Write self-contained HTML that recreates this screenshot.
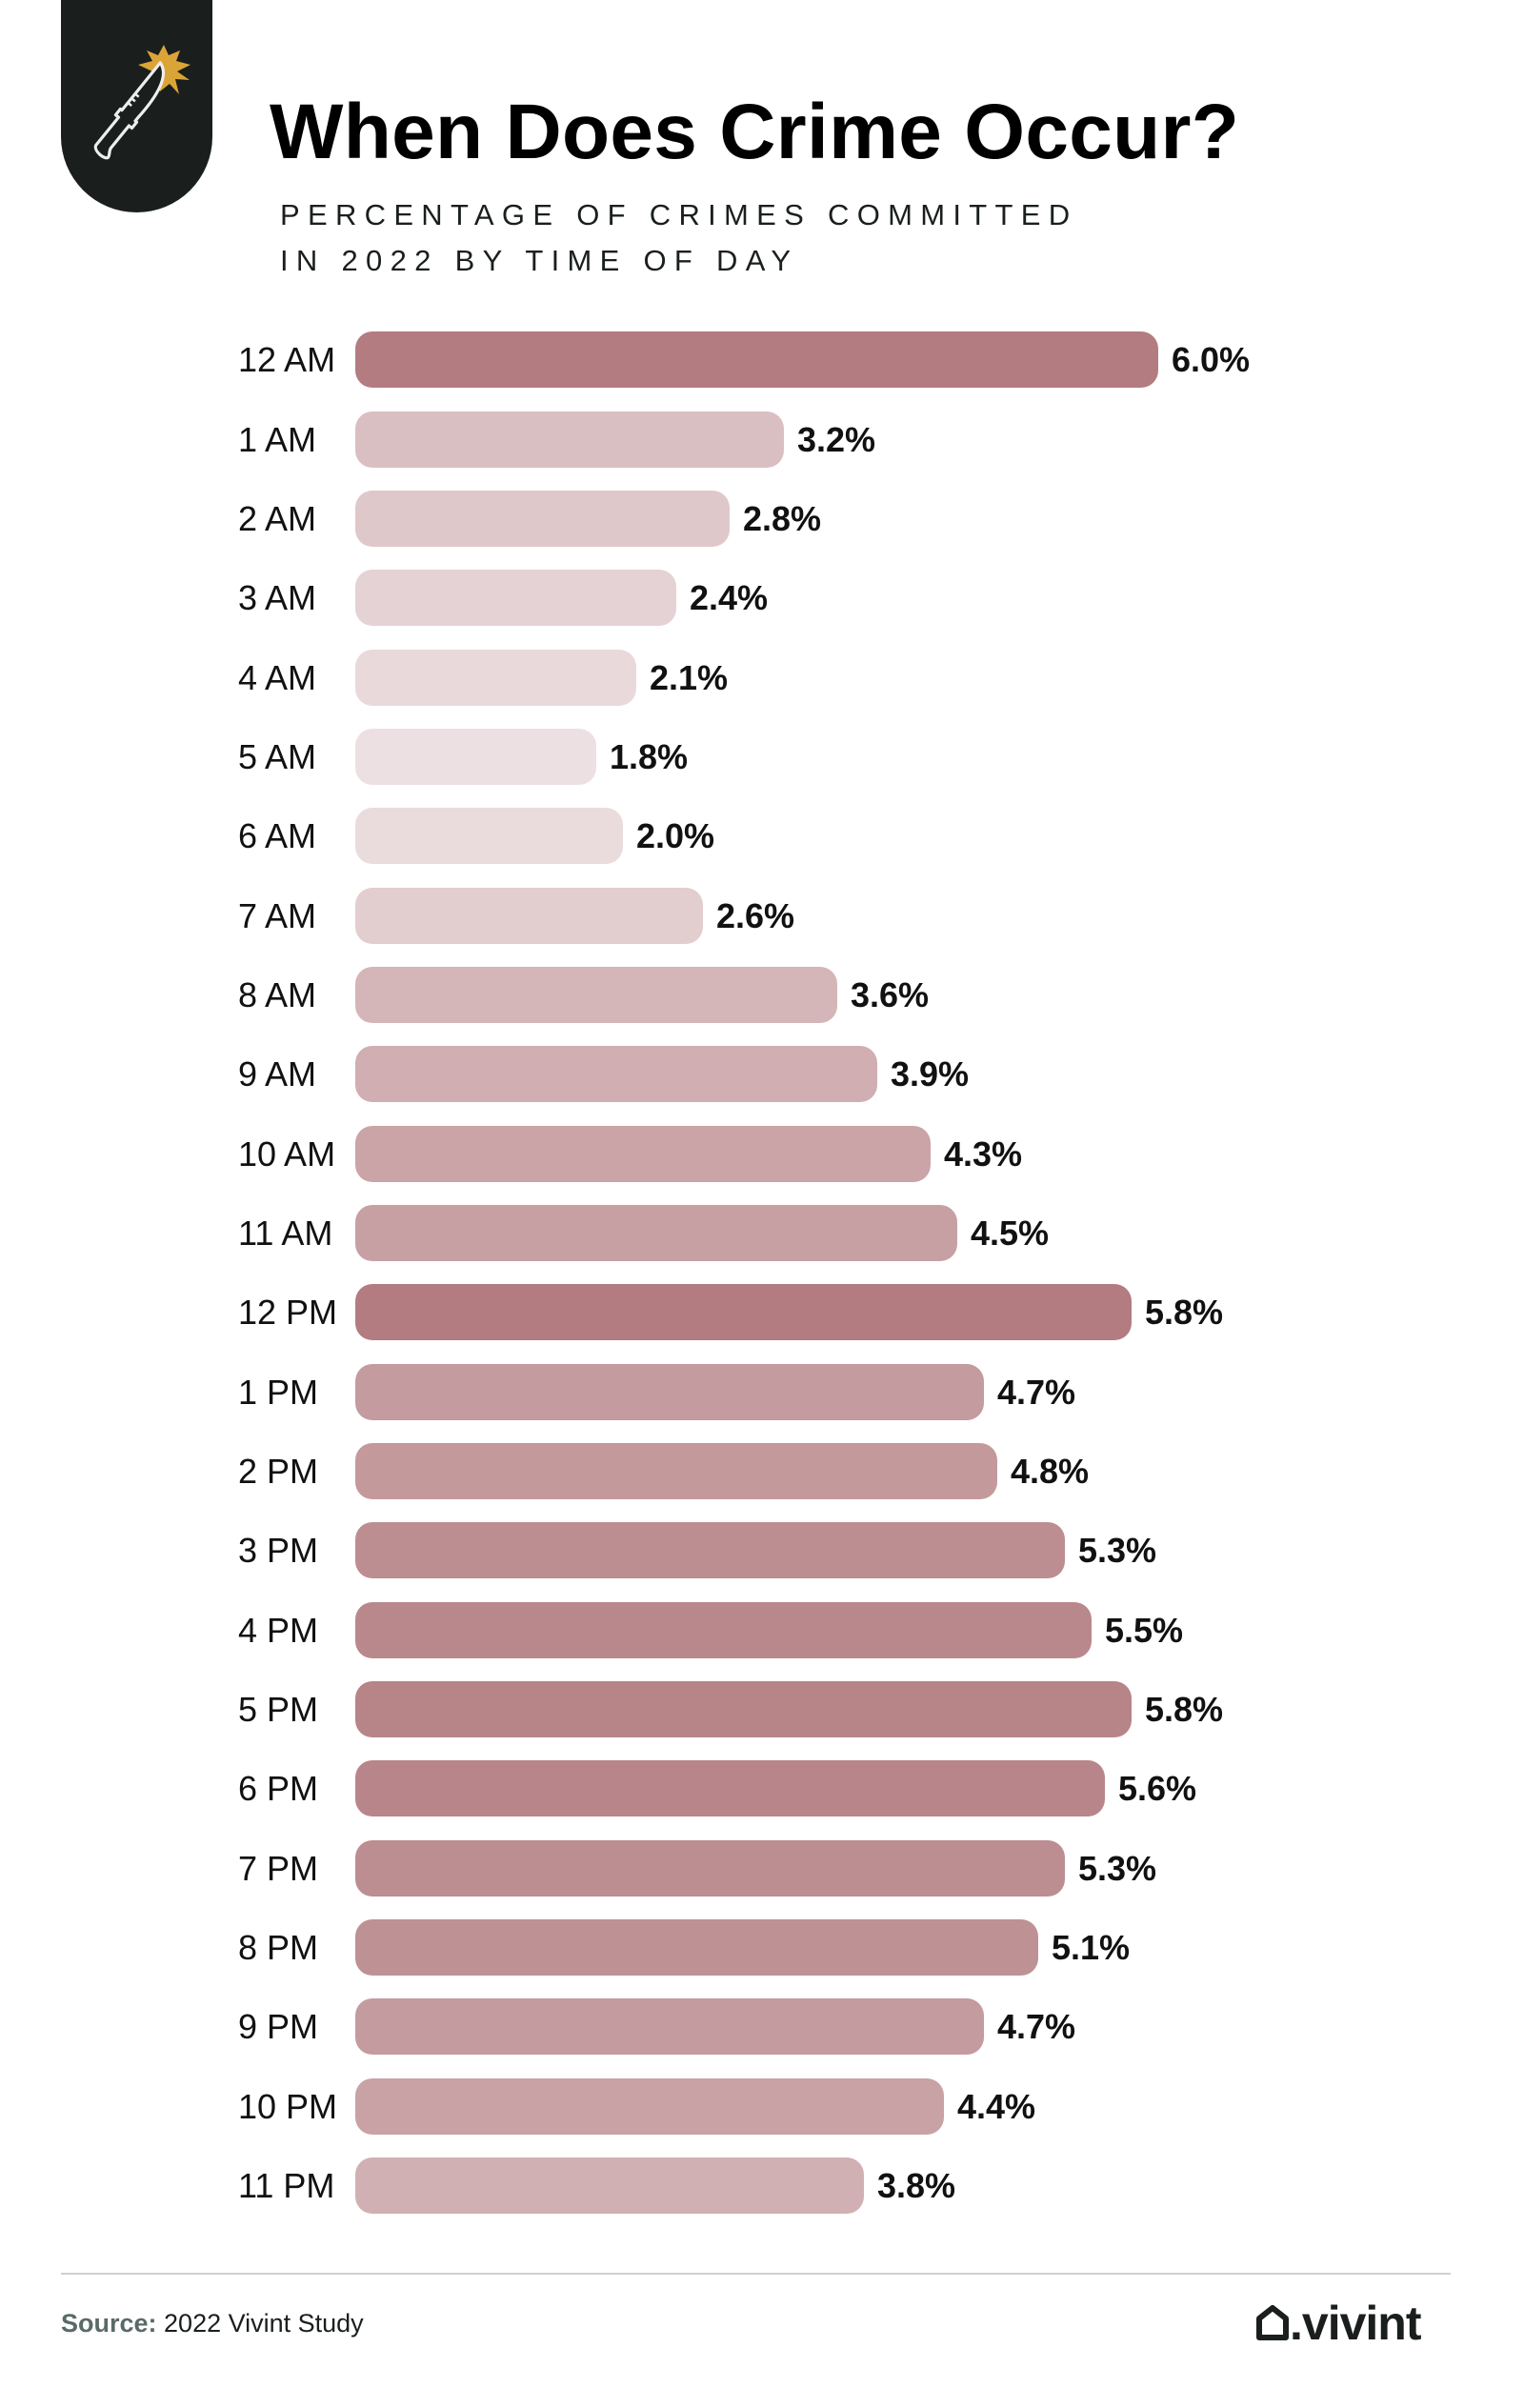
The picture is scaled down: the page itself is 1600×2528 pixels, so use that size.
<!DOCTYPE html>
<html><head><meta charset="utf-8"><style>
body{margin:0;width:1600px;height:2528px;background:#fff;position:relative;overflow:hidden;font-family:"Liberation Sans",sans-serif;color:#1a1f1e}
.badge{position:absolute;left:64px;top:0;width:159px;height:223px;background:#1a1f1e;border-radius:0 0 80px 80px}
h1{position:absolute;left:283px;top:92px;margin:0;font-size:82px;font-weight:bold;color:#000;letter-spacing:0.3px;white-space:nowrap}
.sub{position:absolute;left:294px;font-size:31px;letter-spacing:8.3px;color:#1a1f1e;white-space:nowrap}
.row{position:absolute;left:0;height:83.33px;width:1600px}
.lab{position:absolute;left:250px;top:0;line-height:83.33px;font-size:36px;color:#111}
.bar{position:absolute;left:373px;top:12px;height:59px;border-radius:18px}
.val{position:absolute;top:0;line-height:83.33px;font-size:36px;font-weight:bold;color:#111}
</style></head><body>
<div class="badge">
<svg width="159" height="223" viewBox="0 0 159 223">
<polygon fill="#dba437" points="108,47 113,58 125,53 121,64 136,68 122,75 135,84 120,83 124,99 114,88 104,96 100,82 90,84 96,75 81,68 96,64 90,53 102,58" />
<g transform="translate(40,158) rotate(-51)">
<path d="M2,-6 L40,-6 L40,-10 L48,-10 L48,-8 L112,-8 C108,6 88,12 52,10 L48,10 L48,12 L40,12 L40,8 L10,8 C6,8 4,12 0,12 C-4,10 -4,-4 2,-6 Z" fill="#1a1f1e" stroke="#eee" stroke-width="3.2" stroke-linejoin="round"/>
<path d="M58,-8 L58,-3 M64,-8 L64,-3 M70,-8 L70,-3" stroke="#eee" stroke-width="2.5"/>
</g>
</svg>
</div>
<h1>When Does Crime Occur?</h1>
<div class="sub" style="top:208px">PERCENTAGE OF CRIMES COMMITTED</div>
<div class="sub" style="top:256px">IN 2022 BY TIME OF DAY</div>

<div class="row" style="top:336.3px"><div class="lab">12 AM</div><div class="bar" style="width:843px;background:#b27c80"></div><div class="val" style="left:1230px">6.0%</div></div>
<div class="row" style="top:419.6px"><div class="lab">1 AM</div><div class="bar" style="width:450px;background:color-mix(in srgb,#b27c80 33%,#ede0e2)"></div><div class="val" style="left:837px">3.2%</div></div>
<div class="row" style="top:503px"><div class="lab">2 AM</div><div class="bar" style="width:393px;background:color-mix(in srgb,#b27c80 24%,#ede0e2)"></div><div class="val" style="left:780px">2.8%</div></div>
<div class="row" style="top:586.3px"><div class="lab">3 AM</div><div class="bar" style="width:337px;background:color-mix(in srgb,#b27c80 14%,#ede0e2)"></div><div class="val" style="left:724px">2.4%</div></div>
<div class="row" style="top:669.6px"><div class="lab">4 AM</div><div class="bar" style="width:295px;background:color-mix(in srgb,#b27c80 7%,#ede0e2)"></div><div class="val" style="left:682px">2.1%</div></div>
<div class="row" style="top:753px"><div class="lab">5 AM</div><div class="bar" style="width:253px;background:#ede0e2"></div><div class="val" style="left:640px">1.8%</div></div>
<div class="row" style="top:836.3px"><div class="lab">6 AM</div><div class="bar" style="width:281px;background:color-mix(in srgb,#b27c80 5%,#ede0e2)"></div><div class="val" style="left:668px">2.0%</div></div>
<div class="row" style="top:919.6px"><div class="lab">7 AM</div><div class="bar" style="width:365px;background:color-mix(in srgb,#b27c80 19%,#ede0e2)"></div><div class="val" style="left:752px">2.6%</div></div>
<div class="row" style="top:1003px"><div class="lab">8 AM</div><div class="bar" style="width:506px;background:color-mix(in srgb,#b27c80 43%,#ede0e2)"></div><div class="val" style="left:893px">3.6%</div></div>
<div class="row" style="top:1086.3px"><div class="lab">9 AM</div><div class="bar" style="width:548px;background:color-mix(in srgb,#b27c80 50%,#ede0e2)"></div><div class="val" style="left:935px">3.9%</div></div>
<div class="row" style="top:1169.6px"><div class="lab">10 AM</div><div class="bar" style="width:604px;background:color-mix(in srgb,#b27c80 60%,#ede0e2)"></div><div class="val" style="left:991px">4.3%</div></div>
<div class="row" style="top:1253px"><div class="lab">11 AM</div><div class="bar" style="width:632px;background:color-mix(in srgb,#b27c80 64%,#ede0e2)"></div><div class="val" style="left:1019px">4.5%</div></div>
<div class="row" style="top:1336.3px"><div class="lab">12 PM</div><div class="bar" style="width:815px;background:#b27c80"></div><div class="val" style="left:1202px">5.8%</div></div>
<div class="row" style="top:1419.6px"><div class="lab">1 PM</div><div class="bar" style="width:660px;background:color-mix(in srgb,#b27c80 69%,#ede0e2)"></div><div class="val" style="left:1047px">4.7%</div></div>
<div class="row" style="top:1503px"><div class="lab">2 PM</div><div class="bar" style="width:674px;background:color-mix(in srgb,#b27c80 71%,#ede0e2)"></div><div class="val" style="left:1061px">4.8%</div></div>
<div class="row" style="top:1586.3px"><div class="lab">3 PM</div><div class="bar" style="width:745px;background:color-mix(in srgb,#b27c80 83%,#ede0e2)"></div><div class="val" style="left:1132px">5.3%</div></div>
<div class="row" style="top:1669.6px"><div class="lab">4 PM</div><div class="bar" style="width:773px;background:color-mix(in srgb,#b27c80 88%,#ede0e2)"></div><div class="val" style="left:1160px">5.5%</div></div>
<div class="row" style="top:1753px"><div class="lab">5 PM</div><div class="bar" style="width:815px;background:color-mix(in srgb,#b27c80 92%,#ede0e2)"></div><div class="val" style="left:1202px">5.8%</div></div>
<div class="row" style="top:1836.3px"><div class="lab">6 PM</div><div class="bar" style="width:787px;background:color-mix(in srgb,#b27c80 90%,#ede0e2)"></div><div class="val" style="left:1174px">5.6%</div></div>
<div class="row" style="top:1919.6px"><div class="lab">7 PM</div><div class="bar" style="width:745px;background:color-mix(in srgb,#b27c80 83%,#ede0e2)"></div><div class="val" style="left:1132px">5.3%</div></div>
<div class="row" style="top:2003px"><div class="lab">8 PM</div><div class="bar" style="width:717px;background:color-mix(in srgb,#b27c80 79%,#ede0e2)"></div><div class="val" style="left:1104px">5.1%</div></div>
<div class="row" style="top:2086.3px"><div class="lab">9 PM</div><div class="bar" style="width:660px;background:color-mix(in srgb,#b27c80 69%,#ede0e2)"></div><div class="val" style="left:1047px">4.7%</div></div>
<div class="row" style="top:2169.6px"><div class="lab">10 PM</div><div class="bar" style="width:618px;background:color-mix(in srgb,#b27c80 62%,#ede0e2)"></div><div class="val" style="left:1005px">4.4%</div></div>
<div class="row" style="top:2253px"><div class="lab">11 PM</div><div class="bar" style="width:534px;background:color-mix(in srgb,#b27c80 48%,#ede0e2)"></div><div class="val" style="left:921px">3.8%</div></div>

<div style="position:absolute;left:64px;top:2386px;width:1459px;height:2px;background:#d0d0d0"></div>
<div style="position:absolute;left:64px;top:2424px;font-size:27px;color:#1a1f1e"><b style="color:#5a6a68">Source:</b> 2022 Vivint Study</div>
<div style="position:absolute;left:1318px;top:2410px;width:200px;height:56px">
<svg width="36" height="40" viewBox="0 0 36 40" style="position:absolute;left:0;top:8px"><path d="M4,36 L4,16 L18,5 L32,16 L32,36 Z" fill="none" stroke="#1a1f1e" stroke-width="6" stroke-linejoin="round"/></svg>
<div style="position:absolute;left:36px;top:0;font-size:50px;font-weight:bold;color:#1a1f1e;letter-spacing:-1px">.vivint</div>
</div>
</body></html>
